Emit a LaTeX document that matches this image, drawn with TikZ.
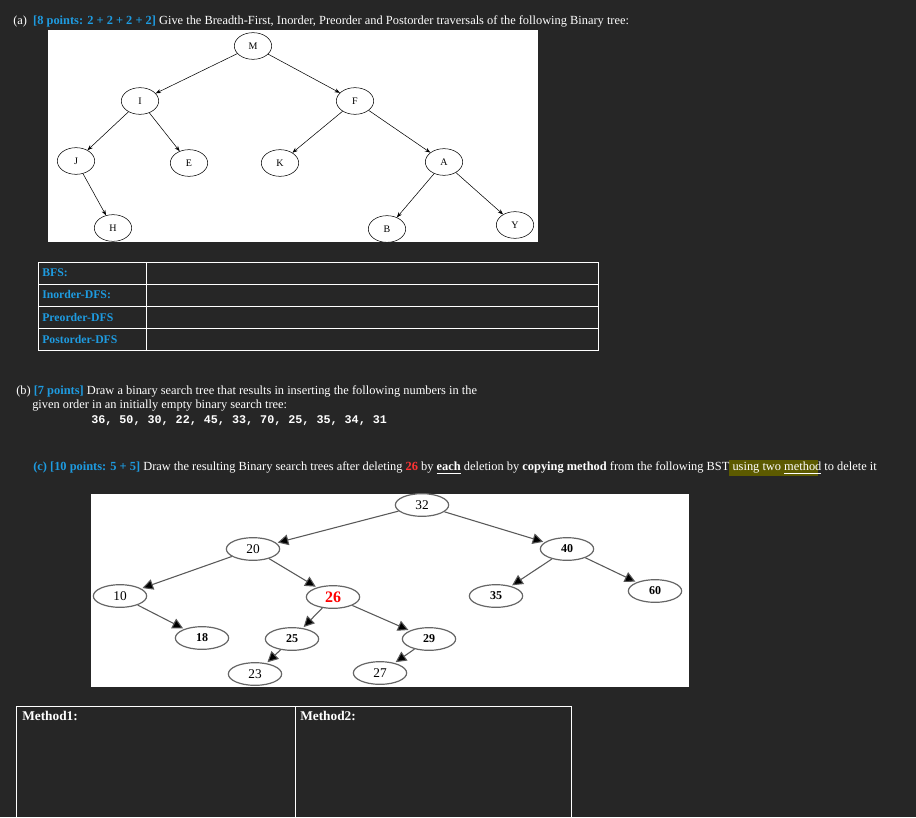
\documentclass[tikz,border=0pt]{standalone}
\usepackage{fontspec}
\setmainfont{Liberation Serif}
\setmonofont{Liberation Mono}
\usetikzlibrary{shapes.geometric,arrows.meta}
\definecolor{bg}{HTML}{262626}
\definecolor{blu}{HTML}{1E9BE0}
\definecolor{hl}{HTML}{5C5A00}
\tikzset{
 tn/.style={ellipse,draw=black,fill=white,minimum width=28pt,minimum height=20pt,inner sep=0pt,font=\fontsize{7.5}{8}\selectfont},
 te/.style={draw=black,thin,-{Stealth[length=4pt,width=3pt]}},
 bn/.style={ellipse,draw=gray!80!black,line width=0.9pt,fill=white,minimum width=40pt,minimum height=17pt,inner sep=0pt,font=\fontsize{10}{11}\selectfont},
 be/.style={draw=gray!70!black,line width=0.8pt,-{Triangle[length=8pt,width=8pt,fill=black]},shorten >=1pt},
 txt/.style={text=white,anchor=west,inner sep=0pt,font=\fontsize{9.3}{11}\selectfont},
 lab/.style={txt,text=blu,font=\fontsize{8.8}{10}\selectfont\bfseries},
 cell/.style={draw=white,thin}
}
\begin{document}
\begin{tikzpicture}[x=0.75pt,y=-0.75pt]
\fill[bg] (0,0) rectangle (916,817);
\useasboundingbox (0,0) rectangle (916,817);
\node[txt] (ta) at (13,21) {(a)\enspace\textcolor{blu}{\textbf{[8 points: 2 + 2 + 2 + 2]}} Give the Breadth-First, Inorder, Preorder and Postorder traversals of the following Binary tree:};
\fill[white] (48,30) rectangle (538,242);
\node[tn] (M) at (253,46) {M};
\node[tn] (I) at (140,101) {I};
\node[tn] (F) at (355,101) {F};
\node[tn] (J) at (76,161) {J};
\node[tn] (E) at (189,163) {E};
\node[tn] (K) at (280,163) {K};
\node[tn] (A) at (444,162) {A};
\node[tn] (H) at (113,228) {H};
\node[tn] (B) at (387,229) {B};
\node[tn] (Y) at (515,225) {Y};
\foreach \a/\b in {M/I,M/F,I/J,I/E,F/K,F/A,J/H,A/B,A/Y} \draw[te] (\a) -- (\b);
% table
\foreach \y in {262,284,306,328} \draw[cell] (38,\y) rectangle (598,\y+22);
\draw[cell] (146,262) -- (146,350);
\node[lab] (r1) at (42,273) {BFS:};
\node[lab] (r2) at (42,295) {Inorder-DFS:};
\node[lab] (r3) at (42,317) {Preorder-DFS};
\node[lab] (r4) at (42,339) {Postorder-DFS};
% b
\node[txt] (tb1) at (16,391) {(b) \textcolor{blu}{\textbf{[7 points]}} Draw a binary search tree that results in inserting the following numbers in the};
\node[txt] (tb2) at (32,406) {given order in an initially empty binary search tree:};
\node[txt,font=\fontsize{8.8}{10}\selectfont\ttfamily\bfseries] (tb3) at (91,421) {36, 50, 30, 22, 45, 33, 70, 25, 35, 34, 31};
% c
\fill[hl] (729,460) rectangle (818,476);
\node[txt] (tc) at (33,468) {\textcolor{blu}{\textbf{(c) [10 points: 5 + 5]}} Draw the resulting Binary search trees after deleting \textcolor{red!80!white}{\textbf{26}} by \textbf{\underline{each}} deletion by \textbf{copying method} from the following BST using two \underline{method} to delete it};
\fill[white] (91,494) rectangle (689,687);
\node[bn] (n32) at (422,505) {32};
\node[bn] (n20) at (253,549) {20};
\node[bn] (n40) at (567,549) {\textbf{\small 40}};
\node[bn] (n10) at (120,596) {10};
\node[bn] (n26) at (333,597) {\textcolor{red}{\textbf{\large 26}}};
\node[bn] (n35) at (496,596) {\textbf{\small 35}};
\node[bn] (n60) at (655,591) {\textbf{\small 60}};
\node[bn] (n18) at (202,638) {\textbf{\small 18}};
\node[bn] (n25) at (292,639) {\textbf{\small 25}};
\node[bn] (n29) at (429,639) {\textbf{\small 29}};
\node[bn] (n23) at (255,674) {23};
\node[bn] (n27) at (380,673) {27};
\foreach \a/\b in {32/20,32/40,20/10,20/26,40/35,40/60,10/18,26/25,26/29,25/23,29/27} \draw[be] (n\a) -- (n\b);
% method boxes
\draw[white] (16,706) -- (571,706);
\draw[white] (16,706) -- (16,817);
\draw[white] (295,706) -- (295,817);
\draw[white] (571,706) -- (571,817);
\node[txt,font=\fontsize{10}{12}\selectfont\bfseries] (m1) at (22,716) {Method1:};
\node[txt,font=\fontsize{10}{12}\selectfont\bfseries] (m2) at (300,716) {Method2:};
\end{tikzpicture}
\end{document}
